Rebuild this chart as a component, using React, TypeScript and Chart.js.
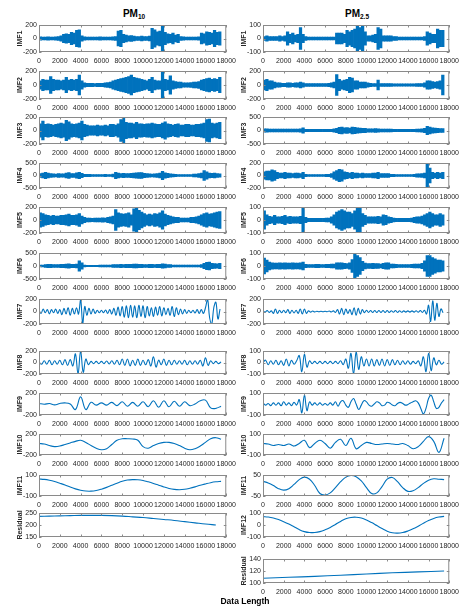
import React, { useEffect, useRef } from "react";
import { Chart, registerables } from "chart.js";

Chart.register(...registerables);

const FONT = "'Liberation Sans',Arial,Helvetica,sans-serif";
const BLUE = "#0072BD";
const TEXT = "#262626";

// x axis (sample index)
const X_MIN = 0;
const X_MAX = 18000;
const X_STEP = 2000;
const BAND_BIN = 250; // samples per envelope bin for dense IMFs

// ---------------- PM10 ----------------
// dense IMFs: half-amplitude of the envelope per 250-sample bin
const pm10Imf1 = [
  25, 20, 20, 25, 20, 20, 25, 30, 40, 60,
  70, 60, 90, 80, 120, 130, 40, 25, 20, 20,
  20, 20, 20, 25, 20, 20, 20, 20, 25, 30,
  110, 120, 60, 50, 40, 45, 35, 30, 30, 35,
  30, 30, 35, 150, 130, 100, 110, 180, 90, 70,
  60, 80, 50, 60, 30, 25, 20, 20, 20, 20,
  20, 25, 80, 70, 100, 90, 80, 120, 90, 100,
];
const pm10Imf2 = [
  60, 80, 70, 70, 120, 80, 70, 70, 60, 70,
  110, 70, 80, 70, 80, 140, 60, 30, 25, 25,
  25, 20, 25, 25, 25, 30, 35, 40, 60, 70,
  80, 90, 100, 110, 120, 140, 110, 100, 90, 80,
  70, 60, 80, 110, 70, 60, 60, 200, 80, 70,
  130, 60, 50, 40, 40, 30, 30, 30, 35, 40,
  40, 50, 70, 80, 90, 100, 80, 90, 80, 110,
];
const pm10Imf3 = [
  100, 140, 90, 100, 90, 80, 90, 100, 110, 100,
  150, 130, 100, 90, 100, 110, 140, 90, 80, 70,
  70, 70, 80, 70, 70, 80, 70, 90, 90, 80,
  100, 160, 180, 120, 110, 110, 100, 120, 100, 100,
  90, 100, 100, 110, 100, 90, 90, 110, 130, 100,
  90, 80, 90, 100, 80, 80, 90, 90, 80, 80,
  90, 90, 100, 110, 160, 170, 110, 100, 110, 120,
];
const pm10Imf4 = [
  80, 100, 130, 100, 80, 70, 60, 80, 70, 70,
  100, 120, 80, 80, 110, 130, 90, 50, 50, 50,
  40, 40, 40, 40, 40, 50, 40, 40, 60, 130,
  100, 80, 90, 80, 80, 90, 100, 110, 120, 120,
  90, 80, 70, 60, 70, 80, 100, 170, 110, 90,
  70, 60, 50, 40, 40, 40, 40, 40, 40, 60,
  60, 80, 100, 200, 150, 100, 90, 100, 80, 70,
];
const pm10Imf5 = [
  110, 100, 80, 70, 60, 70, 60, 60, 70, 70,
  80, 90, 70, 70, 80, 100, 60, 40, 30, 30,
  25, 30, 30, 30, 35, 30, 40, 50, 60, 160,
  110, 100, 90, 100, 110, 80, 170, 180, 150, 120,
  100, 80, 90, 80, 100, 90, 110, 140, 90, 70,
  60, 50, 40, 40, 30, 30, 30, 30, 40, 40,
  50, 60, 80, 100, 110, 90, 100, 110, 120, 130,
];
const pm10Imf6 = [
  40, 40, 50, 60, 60, 50, 50, 50, 60, 60,
  70, 80, 60, 60, 70, 200, 120, 40, 30, 30,
  30, 30, 30, 40, 40, 40, 40, 40, 50, 50,
  50, 60, 50, 60, 60, 60, 70, 70, 60, 60,
  50, 50, 60, 60, 50, 60, 60, 80, 70, 50,
  50, 40, 40, 40, 40, 40, 40, 40, 40, 40,
  40, 40, 50, 100, 140, 150, 100, 90, 80, 100,
];
// oscillating IMFs: values read every `step` samples
const pm10Imf7Step = 200;
const pm10Imf7 = [
  20, -30, 40, -20, 30, -40, 30, -20, 40, -30,
  30, -50, 50, -40, 60, -60, 50, -40, 60, -40,
  200, -190, 80, -60, 50, -40, 40, -30, 20, -20,
  20, -20, 25, -30, 30, -40, 50, -60, 70, -70,
  80, -90, 90, -100, 100, -90, 90, -100, 100, -80,
  90, -100, 80, -70, 60, -80, 70, -60, 80, -70,
  60, -50, 50, -60, 80, -80, 60, -50, 40, -40,
  30, -30, 20, -20, 20, -25, 30, -30, 30, -30,
  60, 200, -100, -200, 60, 150, -120, 40,
];
const pm10Imf8Step = 250;
const pm10Imf8 = [
  10, -30, 30, -30, 40, -40, 30, -30, 40, -40,
  50, -50, 50, -60, 150, -200, 200, -170, 60, -40,
  20, -20, 20, -20, 20, -20, 25, -25, 30, -30,
  40, -40, 60, -50, 60, -60, 40, -50, 60, -50,
  40, -40, 50, -60, 100, -80, 40, -40, 60, -50,
  40, -40, 40, -30, 30, -30, 40, -40, 30, -30,
  30, -30, 40, -60, 80, -50, 30, -20, 20, -20,
  10,
];
const pm10Imf9Step = 500;
const pm10Imf9 = [
  10, -5, 10, -15, 10, 20, 0, -100, 130, -100,
  30, -20, 20, -20, 30, -30, 40, -40, 30, -40,
  40, -50, 60, -60, 60, -50, 50, -40, 40, -30,
  0, 60, 70, -70, -80, -40,
];
const pm10Imf10Step = 500;
const pm10Imf10 = [
  20, 10, -20, -40, -30, 0, 30, 60, 80, 40,
  -20, -70, -100, -80, 0, 80, 110, 110, 105, 80,
  -40, -70, -20, 20, 40, 40, 20, -20, -70, -100,
  -80, -30, 40, 110, 130, 100,
];
const pm10Imf11Step = 500;
const pm10Imf11 = [
  62, 58, 50, 38, 22, 5, -15, -32, -45, -53,
  -54, -48, -35, -18, 2, 22, 40, 52, 56, 55,
  48, 35, 20, 3, -14, -28, -37, -40, -36, -26,
  -13, 2, 15, 27, 35, 39,
];
const pm10ResStep = 1000;
const pm10Res = [
  236, 237, 238, 239, 240, 240, 240, 239, 237, 234,
  231, 227, 223, 219, 214, 209, 204, 200,
];

// ---------------- PM2.5 ----------------
const pm25Imf1 = [
  15, 20, 15, 15, 15, 15, 20, 15, 20, 50,
  30, 40, 25, 30, 80, 30, 15, 10, 10, 10,
  10, 10, 10, 10, 10, 10, 10, 10, 40, 40,
  40, 30, 60, 50, 60, 70, 90, 80, 90, 50,
  20, 20, 25, 30, 80, 70, 20, 20, 20, 20,
  15, 15, 10, 10, 10, 10, 10, 10, 10, 10,
  10, 10, 15, 50, 40, 30, 30, 70, 60, 60,
];
const pm25Imf2 = [
  70, 80, 60, 60, 40, 30, 30, 25, 25, 30,
  30, 25, 30, 30, 40, 30, 20, 20, 20, 20,
  20, 20, 20, 20, 20, 25, 30, 40, 150, 80,
  60, 70, 80, 110, 100, 60, 60, 40, 40, 40,
  30, 25, 20, 20, 70, 20, 20, 20, 20, 20,
  15, 15, 15, 15, 15, 15, 15, 15, 15, 20,
  20, 20, 30, 60, 60, 50, 40, 50, 60, 140,
];
const pm25Imf3 = [
  60, 60, 50, 50, 50, 50, 50, 50, 50, 50,
  50, 50, 50, 50, 60, 100, 40, 40, 40, 40,
  40, 40, 40, 40, 40, 40, 40, 60, 80, 120,
  130, 100, 110, 90, 130, 120, 100, 90, 80, 80,
  60, 60, 60, 70, 60, 50, 50, 50, 50, 50,
  40, 40, 40, 40, 40, 40, 40, 40, 40, 50,
  50, 60, 80, 150, 130, 100, 90, 80, 70, 70,
];
const pm25Imf4 = [
  60, 70, 70, 90, 80, 50, 40, 40, 50, 40,
  40, 30, 40, 40, 30, 50, 20, 15, 15, 15,
  15, 15, 15, 15, 20, 20, 30, 60, 80, 100,
  90, 60, 50, 40, 50, 40, 40, 30, 40, 30,
  30, 30, 40, 40, 50, 30, 30, 30, 30, 20,
  20, 15, 15, 15, 15, 15, 15, 15, 20, 25,
  25, 30, 40, 180, 120, 50, 40, 50, 40, 50,
];
const pm25Imf5 = [
  70, 40, 28, 25, 35, 25, 25, 28, 35, 25,
  28, 25, 25, 25, 28, 100, 20, 12, 12, 12,
  12, 12, 12, 12, 15, 15, 25, 40, 60, 70,
  80, 70, 60, 60, 50, 70, 100, 90, 50, 35,
  25, 25, 25, 25, 28, 25, 40, 35, 25, 20,
  15, 12, 12, 12, 12, 12, 12, 15, 20, 25,
  25, 30, 40, 50, 60, 50, 40, 40, 50, 40,
];
const pm25Imf6 = [
  60, 45, 30, 25, 22, 22, 25, 22, 25, 22,
  22, 25, 22, 22, 25, 30, 12, 10, 10, 10,
  12, 12, 10, 10, 12, 12, 15, 15, 25, 25,
  25, 20, 18, 25, 50, 90, 80, 65, 35, 22,
  18, 18, 20, 18, 18, 15, 20, 25, 25, 15,
  15, 12, 10, 10, 10, 10, 10, 12, 15, 15,
  15, 20, 40, 80, 80, 65, 55, 45, 45, 40,
];
const pm25Imf7Step = 200;
const pm25Imf7 = [
  10, -10, 15, -15, 10, -30, 40, -30, 20, -20,
  20, -20, 30, -30, 20, -25, 20, -30, 40, -40,
  40, -30, 10, -10, 8, -8, 5, -5, 5, -5,
  5, -5, 8, -8, 10, -15, 30, -40, 50, -50,
  40, -30, 30, -50, 60, -60, 50, -40, 30, -20,
  20, -15, 15, -15, 15, -15, 15, -15, 15, -15,
  15, -15, 12, -12, 15, -15, 12, -12, 10, -10,
  10, -10, 10, -10, 12, -12, 15, -15, 20, -40,
  100, -160, 170, -140, 130, -80, 40, -20,
];
const pm25Imf8Step = 250;
const pm25Imf8 = [
  0, 20, -20, 15, -15, 20, -20, 15, -25, 30,
  -30, 20, -15, 15, 60, -80, 70, -40, 15, -10,
  10, -10, 10, -10, 10, -10, 10, -10, 10, -10,
  15, -20, 30, -50, 80, -100, 90, -60, 50, -30,
  30, -30, 30, -30, 25, -25, 30, -30, 25, -25,
  25, -20, 20, -20, 15, -15, 15, -15, 10, -10,
  15, -30, 50, -80, 80, -70, 40, -20, 20, -15,
  5,
];
const pm25Imf9Step = 250;
const pm25Imf9 = [
  10, -10, 5, -15, 10, -10, 10, -15, 20, -10,
  10, -15, 15, -10, 40, -80, 80, -60, 20, -10,
  10, -10, 10, -10, 5, -10, 10, -10, 20, -20,
  20, 30, -10, -30, 20, 50, 0, -50, -10, 30,
  20, -10, -20, 0, 20, 10, -15, -10, 15, 10,
  -10, -15, 5, 15, 5, -10, -5, 10, 20, 30,
  10, -40, -90, -40, 50, 80, 20, -40, -30, 10,
  40,
];
const pm25Imf10Step = 500;
const pm25Imf10 = [
  10, 5, -10, 0, -10, 5, -15, 10, 40, -30,
  10, 40, 10, -35, 20, 50, -10, 60, -40, -10,
  20, 10, 0, 5, 10, 5, 0, 10, -10, -40,
  -20, 30, 75, 30, -75, 60,
];
const pm25Imf11Step = 500;
const pm25Imf11 = [
  20, 12, 0, -15, -22, -15, 5, 28, 40, 30,
  0, -38, -45, -35, -10, 18, 40, 48, 42, 22,
  -10, -38, -35, -5, 30, 38, 18, -10, -28, -25,
  -10, 10, 25, 32, 30, 28,
];
const pm25Imf12Step = 500;
const pm25Imf12 = [
  70, 66, 58, 45, 28, 8, -15, -38, -55, -63,
  -62, -55, -40, -20, 5, 30, 52, 63, 65, 58,
  42, 20, -5, -30, -52, -65, -68, -63, -50, -32,
  -10, 15, 38, 55, 66, 72,
];
const pm25ResStep = 2500;
const pm25Res = [108, 109.5, 111, 113, 115, 117, 118.5, 120];

// ---------------- panel definitions ----------------
type Series =
  | { kind: "band"; env: number[] }
  | { kind: "line"; step: number; values: number[] };

interface PanelDef {
  label: string;
  min: number;
  max: number;
  tick: number;
  series: Series;
}

const band = (env: number[]): Series => ({ kind: "band", env });
const line = (step: number, values: number[]): Series => ({ kind: "line", step, values });

const PM10_PANELS: PanelDef[] = [
  { label: "IMF1", min: -200, max: 200, tick: 200, series: band(pm10Imf1) },
  { label: "IMF2", min: -200, max: 200, tick: 200, series: band(pm10Imf2) },
  { label: "IMF3", min: -200, max: 200, tick: 200, series: band(pm10Imf3) },
  { label: "IMF4", min: -500, max: 500, tick: 500, series: band(pm10Imf4) },
  { label: "IMF5", min: -200, max: 200, tick: 200, series: band(pm10Imf5) },
  { label: "IMF6", min: -500, max: 500, tick: 500, series: band(pm10Imf6) },
  { label: "IMF7", min: -200, max: 200, tick: 200, series: line(pm10Imf7Step, pm10Imf7) },
  { label: "IMF8", min: -200, max: 200, tick: 200, series: line(pm10Imf8Step, pm10Imf8) },
  { label: "IMF9", min: -200, max: 200, tick: 200, series: line(pm10Imf9Step, pm10Imf9) },
  { label: "IMF10", min: -200, max: 200, tick: 200, series: line(pm10Imf10Step, pm10Imf10) },
  { label: "IMF11", min: -100, max: 100, tick: 100, series: line(pm10Imf11Step, pm10Imf11) },
  { label: "Residual", min: 150, max: 250, tick: 50, series: line(pm10ResStep, pm10Res) },
];

const PM25_PANELS: PanelDef[] = [
  { label: "IMF1", min: -100, max: 100, tick: 100, series: band(pm25Imf1) },
  { label: "IMF2", min: -200, max: 200, tick: 200, series: band(pm25Imf2) },
  { label: "IMF3", min: -500, max: 500, tick: 500, series: band(pm25Imf3) },
  { label: "IMF4", min: -200, max: 200, tick: 200, series: band(pm25Imf4) },
  { label: "IMF5", min: -100, max: 100, tick: 100, series: band(pm25Imf5) },
  { label: "IMF6", min: -100, max: 100, tick: 100, series: band(pm25Imf6) },
  { label: "IMF7", min: -200, max: 200, tick: 200, series: line(pm25Imf7Step, pm25Imf7) },
  { label: "IMF8", min: -100, max: 100, tick: 100, series: line(pm25Imf8Step, pm25Imf8) },
  { label: "IMF9", min: -100, max: 100, tick: 100, series: line(pm25Imf9Step, pm25Imf9) },
  { label: "IMF10", min: -100, max: 100, tick: 100, series: line(pm25Imf10Step, pm25Imf10) },
  { label: "IMF11", min: -50, max: 50, tick: 50, series: line(pm25Imf11Step, pm25Imf11) },
  { label: "IMF12", min: -100, max: 100, tick: 100, series: line(pm25Imf12Step, pm25Imf12) },
  { label: "Residual", min: 100, max: 140, tick: 20, series: line(pm25ResStep, pm25Res) },
];

// ---------------- layout (pixels) ----------------
const COLS = [
  { x0: 39, x1: 228 },
  { x0: 263, x1: 451 },
];
const ROWS: [number, number][] = [
  [25, 52], [71, 99], [117, 144], [163, 188], [207, 233], [253, 279],
  [299, 324], [351, 374], [393, 415], [434, 455], [475, 496], [513, 537], [559, 583],
];
const AXIS_W = 39;
const PAD_TOP = 7;
const PAD_RIGHT = 13;
const AXIS_H = 16;

const framePlugin = {
  id: "matlabFrame",
  afterDraw(chart: any) {
    const { ctx, chartArea: a, scales } = chart;
    ctx.save();
    ctx.strokeStyle = "#8a8a8a";
    ctx.lineWidth = 1;
    ctx.strokeRect(a.left + 0.5, a.top + 0.5, a.right - a.left - 1, a.bottom - a.top - 1);
    ctx.beginPath();
    const tl = 2.5;
    scales.x.ticks.forEach((t: any) => {
      const px = Math.round(scales.x.getPixelForValue(t.value)) + 0.5;
      ctx.moveTo(px, a.bottom);
      ctx.lineTo(px, a.bottom - tl);
      ctx.moveTo(px, a.top);
      ctx.lineTo(px, a.top + tl);
    });
    scales.y.ticks.forEach((t: any) => {
      const py = Math.round(scales.y.getPixelForValue(t.value)) + 0.5;
      ctx.moveTo(a.left, py);
      ctx.lineTo(a.left + tl, py);
      ctx.moveTo(a.right, py);
      ctx.lineTo(a.right - tl, py);
    });
    ctx.stroke();
    ctx.restore();
  },
};

function buildConfig(p: PanelDef): any {
  const s = p.series;
  const isBand = s.kind === "band";
  // dense IMFs: floating bar from -envelope to +envelope per bin
  const data =
    s.kind === "band"
      ? s.env.map((a, i) => ({ x: i * BAND_BIN + BAND_BIN / 2, y: [-a, a] }))
      : s.values.map((v, i) => ({ x: i * s.step, y: v }));
  return {
    type: isBand ? "bar" : "line",
    data: {
      datasets: [
        {
          data,
          backgroundColor: BLUE,
          borderColor: BLUE,
          borderWidth: isBand ? 0 : 1.1,
          pointRadius: 0,
          tension: 0.4,
          barPercentage: 1,
          categoryPercentage: 1,
        },
      ],
    },
    options: {
      animation: false,
      responsive: false,
      devicePixelRatio: 1,
      events: [],
      layout: { padding: { left: 0, top: PAD_TOP, right: PAD_RIGHT, bottom: 0 } },
      plugins: { legend: { display: false }, tooltip: { enabled: false } },
      scales: {
        x: {
          type: "linear",
          min: X_MIN,
          max: X_MAX,
          offset: false,
          grid: { display: false, drawTicks: false },
          border: { display: false },
          ticks: {
            stepSize: X_STEP,
            autoSkip: false,
            maxRotation: 0,
            padding: 5,
            color: TEXT,
            font: { family: FONT, size: 7 },
            callback: (v: number) => String(v),
          },
          afterFit: (sc: any) => {
            sc.height = AXIS_H;
          },
        },
        y: {
          type: "linear",
          min: p.min,
          max: p.max,
          grid: { display: false, drawTicks: false },
          border: { display: false },
          ticks: {
            stepSize: p.tick,
            padding: 2,
            color: TEXT,
            font: { family: FONT, size: 7 },
            callback: (v: number) => String(v),
          },
          title: {
            display: true,
            text: p.label,
            color: TEXT,
            font: { family: FONT, size: 7, weight: "bold" },
            padding: { top: 16, bottom: 0 },
          },
          afterFit: (sc: any) => {
            sc.width = AXIS_W;
          },
        },
      },
    },
    plugins: [framePlugin],
  };
}

function Panel({ p, col, row }: { p: PanelDef; col: number; row: number }) {
  const ref = useRef<HTMLCanvasElement>(null);
  const { x0, x1 } = COLS[col];
  const [y0, y1] = ROWS[row];
  const left = x0 - AXIS_W;
  const top = y0 - PAD_TOP;
  const w = x1 - x0 + AXIS_W + PAD_RIGHT;
  const h = y1 - y0 + PAD_TOP + AXIS_H;
  useEffect(() => {
    if (!ref.current) return;
    const chart = new Chart(ref.current, buildConfig(p));
    return () => chart.destroy();
  }, [p]);
  return (
    <canvas
      ref={ref}
      width={w}
      height={h}
      style={{ position: "absolute", left, top, width: w, height: h }}
    />
  );
}

const titleStyle: React.CSSProperties = {
  position: "absolute",
  width: 100,
  top: 8,
  textAlign: "center",
  fontWeight: "bold",
  fontSize: 10,
  lineHeight: "11px",
  color: "#000",
};
const subStyle: React.CSSProperties = { fontSize: 6.5, lineHeight: 0, verticalAlign: "-2px" };

export default function App() {
  return (
    <div
      style={{
        position: "absolute",
        left: 0,
        top: 0,
        width: 474,
        height: 612,
        background: "#fff",
        overflow: "hidden",
        fontFamily: FONT,
      }}
    >
      <div style={{ ...titleStyle, left: 84 }}>
        PM<span style={subStyle}>10</span>
      </div>
      <div style={{ ...titleStyle, left: 307 }}>
        PM<span style={subStyle}>2.5</span>
      </div>
      {PM10_PANELS.map((p, i) => (
        <Panel key={"a" + i} p={p} col={0} row={i} />
      ))}
      {PM25_PANELS.map((p, i) => (
        <Panel key={"b" + i} p={p} col={1} row={i} />
      ))}
      <div
        style={{
          position: "absolute",
          left: 195,
          width: 100,
          top: 596,
          textAlign: "center",
          fontWeight: "bold",
          fontSize: 8.5,
          lineHeight: "10px",
          color: "#000",
        }}
      >
        Data Length
      </div>
    </div>
  );
}
